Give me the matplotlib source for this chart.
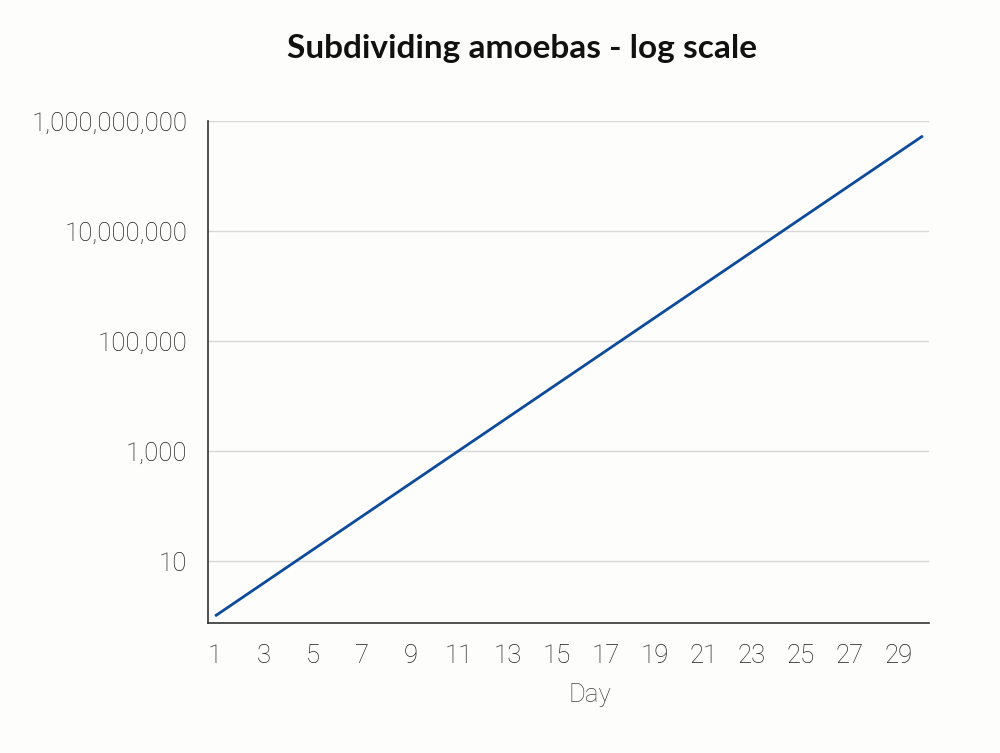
import matplotlib.pyplot as plt
from matplotlib.ticker import FuncFormatter

# amoeba count doubles every day, starting from one
days = list(range(1, 31))
amoebas = [2 ** (d - 1) for d in days]

x_ticks = list(range(1, 30, 2))
y_ticks = [10, 1_000, 100_000, 10_000_000, 1_000_000_000]

title = "Subdividing amoebas - log scale"
x_label = "Day"

bg = "#fdfdfb"
line_color = "#0d4a9b"
grid_color = "#d8d8d8"
axis_color = "#333333"
text_color = "#1c1c1c"

plt.rcParams["font.family"] = ["Roboto", "DejaVu Sans"]

fig = plt.figure(figsize=(10, 7.53), dpi=100, facecolor=bg)
ax = fig.add_axes([0.208, 0.1726, 0.721, 0.6667])
ax.set_facecolor(bg)

ax.plot(days, amoebas, color=line_color, linewidth=2, solid_capstyle="butt")

ax.set_yscale("log")
ax.set_ylim(0.746, 1e9)
ax.set_xlim(0.71, 30.25)

ax.set_yticks(y_ticks)
ax.yaxis.set_major_formatter(FuncFormatter(lambda v, _: f"{int(round(v)):,}"))
ax.yaxis.set_minor_locator(plt.NullLocator())
ax.set_xticks(x_ticks)

ax.grid(axis="y", color=grid_color, linewidth=1)
ax.set_axisbelow(True)

for side in ["top", "right"]:
    ax.spines[side].set_visible(False)
for side in ["left", "bottom"]:
    ax.spines[side].set_color(axis_color)
    ax.spines[side].set_linewidth(1.2)

ax.tick_params(axis="both", length=0, labelsize=18.5, labelcolor=text_color)
ax.tick_params(axis="y", pad=15)
ax.tick_params(axis="x", pad=15)
for lbl in ax.get_xticklabels() + ax.get_yticklabels():
    lbl.set_fontweight("light")

fig.text(0.522, 0.936, title, ha="center", va="center",
         fontsize=24, fontweight="bold", color="#111111",
         family=["Lato", "DejaVu Sans"])
fig.text(0.590, 0.077, x_label, ha="center", va="center",
         fontsize=18.5, fontweight="light", color="#444444")

fig.savefig("out.png", dpi=100, facecolor=bg)
